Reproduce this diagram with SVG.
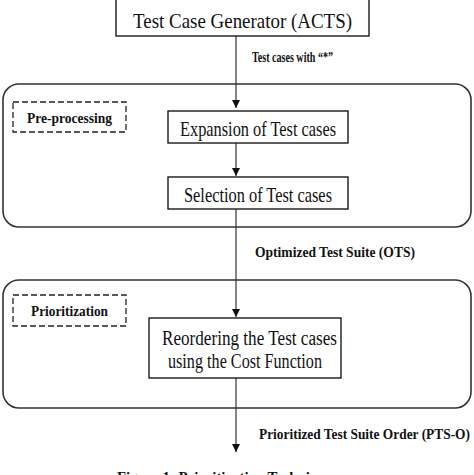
<svg xmlns="http://www.w3.org/2000/svg" width="474" height="475" viewBox="0 0 474 475">
<style>
.box{fill:#fff;stroke:#1a1a1a;stroke-width:1.4}
.cont{fill:none;stroke:#333;stroke-width:1.6}
.dash{fill:#fff;stroke:#222;stroke-width:1.3;stroke-dasharray:6,3}
.t{font-family:"Liberation Serif",serif;font-size:22px;fill:#111}
.t2{font-family:"Liberation Serif",serif;font-size:20px;fill:#111}
.b{font-family:"Liberation Serif",serif;font-size:15px;font-weight:bold;fill:#111}
.ln{stroke:#333;stroke-width:1.2;fill:none}
</style>
<defs>
<marker id="ah" viewBox="0 0 10 10" refX="10" refY="5" markerWidth="8" markerHeight="11" markerUnits="userSpaceOnUse" orient="auto">
<path d="M0,0 L10,5 L0,10 Z" fill="#111"/>
</marker>
</defs>
<rect width="474" height="475" fill="#fff"/>
<g id="preprocessing-group">
<rect class="cont" x="3" y="84" width="468" height="143" rx="16"/>
</g>
<g id="prioritization-group">
<rect class="cont" x="3" y="280" width="468" height="128" rx="16"/>
</g>
<g id="connectors">
<line class="ln" x1="236" y1="36" x2="236" y2="108" marker-end="url(#ah)"/>
<line class="ln" x1="236" y1="143" x2="236" y2="176" marker-end="url(#ah)"/>
<line class="ln" x1="236" y1="209" x2="236" y2="317" marker-end="url(#ah)"/>
<line class="ln" x1="236" y1="378" x2="236" y2="452" marker-end="url(#ah)"/>
<text class="b" x="252" y="62" textLength="81" lengthAdjust="spacingAndGlyphs">Test cases with “*”</text>
<text class="b" x="255" y="257" textLength="160" lengthAdjust="spacingAndGlyphs">Optimized Test Suite (OTS)</text>
<text class="b" x="259" y="439" textLength="211" lengthAdjust="spacingAndGlyphs">Prioritized Test Suite Order (PTS-O)</text>
</g>
<g id="generator">
<rect class="box" x="116" y="-5" width="253" height="41"/>
<text class="t" x="133" y="28" textLength="219" lengthAdjust="spacingAndGlyphs">Test Case Generator (ACTS)</text>
</g>
<g id="preprocessing-label">
<rect class="dash" x="13" y="102" width="113" height="30"/>
<text class="b" x="27" y="123" textLength="85" lengthAdjust="spacingAndGlyphs">Pre-processing</text>
</g>
<g id="expansion">
<rect class="box" x="168" y="111" width="180" height="32"/>
<text class="t" x="180" y="136" textLength="156" lengthAdjust="spacingAndGlyphs">Expansion of Test cases</text>
</g>
<g id="selection">
<rect class="box" x="168" y="177" width="180" height="32"/>
<text class="t" x="184" y="202" textLength="148" lengthAdjust="spacingAndGlyphs">Selection of Test cases</text>
</g>
<g id="prioritization-label">
<rect class="dash" x="13" y="295" width="113" height="31"/>
<text class="b" x="31" y="316" textLength="77" lengthAdjust="spacingAndGlyphs">Prioritization</text>
</g>
<g id="reordering">
<rect class="box" x="149" y="318" width="192" height="60"/>
<text class="t2" x="162" y="345" textLength="175" lengthAdjust="spacingAndGlyphs">Reordering the Test cases</text>
<text class="t2" x="168" y="368" textLength="154" lengthAdjust="spacingAndGlyphs">using the Cost Function</text>
</g>
<g id="caption">
<text class="b" x="117" y="482" textLength="216" lengthAdjust="spacingAndGlyphs">Figure 1: Prioritization Technique</text>
</g>
</svg>
